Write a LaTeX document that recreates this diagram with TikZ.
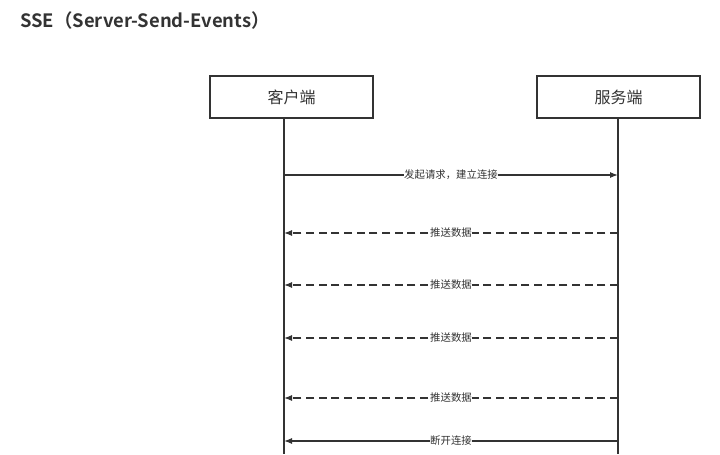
\documentclass[tikz,border=0pt]{standalone}
\usepackage{fontspec}
\setmainfont{Noto Sans CJK SC}
\newfontfamily\cjkb{Noto Sans CJK SC Bold}
\usetikzlibrary{arrows.meta}
\definecolor{ln}{HTML}{333333}
\tikzset{
  actor/.style={draw=ln, line width=0.9pt, minimum width=122.25pt, minimum height=31.5pt, inner sep=0pt, font=\fontsize{12}{14}\selectfont, text=ln},
  life/.style={draw=ln, line width=0.9pt},
  msg/.style={draw=ln, line width=0.9pt, -{Latex[length=6pt,width=4.5pt]}},
  msgd/.style={msg, dash pattern=on 6pt off 3.5pt},
  lbl/.style={fill=white, inner sep=0.5pt, font=\fontsize{7.8}{9}\selectfont, text=ln}
}
\begin{document}
\begin{tikzpicture}[x=0.75pt,y=-0.75pt]
\useasboundingbox (0,0) rectangle (720,454);
\fill[white] (0,0) rectangle (720,454);
\node[anchor=west, font=\cjkb\fontsize{13.8}{16}\selectfont, text=ln, inner sep=0pt] (title) at (20,21) {SSE（Server-Send-Events）};
\node[actor] (c) at (291.5,97) {客户端};
\node[actor] (s) at (618.5,97) {服务端};
\coordinate (ct) at (284,118);
\coordinate (cb) at (284,454);
\coordinate (st) at (618,118);
\coordinate (sb) at (618,454);
\draw[life] (ct) -- (cb);
\draw[life] (st) -- (sb);
\foreach \n/\y in {a/175,b/233,c/285,d/338,e/398,f/441}{
  \coordinate (l\n) at (284,\y);
  \coordinate (r\n) at (618,\y);
}
\draw[msg] (la) -- node[lbl] (ma) {发起请求，建立连接} (ra);
\draw[msgd] (rb) -- node[lbl] (mb) {推送数据} (lb);
\draw[msgd] (rc) -- node[lbl] (mc) {推送数据} (lc);
\draw[msgd] (rd) -- node[lbl] (md) {推送数据} (ld);
\draw[msgd] (re) -- node[lbl] (me) {推送数据} (le);
\draw[msg] (rf) -- node[lbl] (mf) {断开连接} (lf);
\end{tikzpicture}
\end{document}
